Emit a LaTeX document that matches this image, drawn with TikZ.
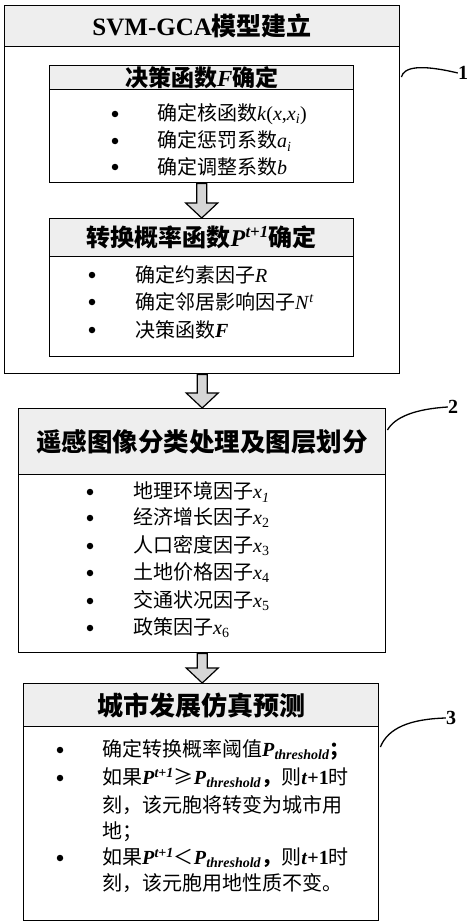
\documentclass[tikz,border=0pt]{standalone}
\usepackage{fontspec}
\setmainfont{Liberation Serif}
\newfontfamily\cjk{Noto Sans CJK SC}
\usetikzlibrary{calc}
\definecolor{hdrgray}{HTML}{EEEEEE}
\definecolor{arrgray}{HTML}{D6D6D6}
\newcommand{\zh}[1]{{\cjk #1}}
\newcommand{\bi}[1]{\textbf{\textit{#1}}}
\newcommand{\blockarrow}[2]{%
  \draw[blk] let \p1=(#1.south), \p2=(#2.north) in
    (\x1-5pt,\y1) -- (\x1+5pt,\y1) -- (\x1+5pt,\y2+15pt) -- (\x1+16pt,\y2+15pt)
    -- (\x1,\y2) -- (\x1-16pt,\y2+15pt) -- (\x1-5pt,\y2+15pt) -- cycle;}
\begin{document}
\begin{tikzpicture}[x=1pt,y=-1pt,
  box/.style={draw, line width=1.4pt, fill=white, anchor=north west, inner sep=0pt},
  hdr/.style={draw, line width=1.4pt, fill=hdrgray, anchor=north west, inner sep=0pt},
  dot/.style={circle, fill=black, inner sep=0pt, minimum size=6.5pt},
  item/.style={anchor=west, inner sep=0pt, font=\fontsize{20}{24}\selectfont},
  blk/.style={draw, line width=1.2pt, fill=arrgray, line join=miter},
  callout/.style={line width=1.3pt},
  lbl/.style={font=\fontsize{20}{20}\selectfont\bfseries, inner sep=0pt}]
\useasboundingbox (0,0) rectangle (474,923);

% ---- Box 1 ----
\node[box, minimum width=395pt, minimum height=368pt] (b1) at (4,5) {};
\node[hdr, minimum width=395pt, minimum height=41pt,
  font=\fontsize{25}{25}\selectfont\bfseries] (b1h) at (4,5) {SVM-GCA\zh{模型建立}};

% Box F
\node[box, minimum width=304pt, minimum height=117pt] (bF) at (49,65) {};
\node[hdr, minimum width=304pt, minimum height=24pt,
  font=\fontsize{23}{23}\selectfont\bfseries] (bFh) at (49,65) {\zh{决策函数}\textit{F}\zh{确定}};
\node[dot] (bFd1) at (115,114) {};
\node[dot] (bFd2) at (115,141) {};
\node[dot] (bFd3) at (115,167) {};
\node[item] (bFt1) at (157,114) {\zh{确定核函数}\textit{k}(\textit{x},\textit{x}\textsubscript{\textit{i}})};
\node[item] (bFt2) at (157,141) {\zh{确定惩罚系数}\textit{a}\textsubscript{\textit{i}}};
\node[item] (bFt3) at (157,167) {\zh{确定调整系数}\textit{b}};

% Box P
\node[box, minimum width=304pt, minimum height=138pt] (bP) at (49,218) {};
\node[hdr, minimum width=304pt, minimum height=38pt,
  font=\fontsize{24}{24}\selectfont\bfseries] (bPh) at (49,218) {\zh{转换概率函数}\textit{P}\textsuperscript{\textit{t+1}}\zh{确定}};
\node[dot] (bPd1) at (92,275) {};
\node[dot] (bPd2) at (92,302) {};
\node[dot] (bPd3) at (92,330) {};
\node[item] (bPt1) at (135,275) {\zh{确定约素因子}\textit{R}};
\node[item] (bPt2) at (135,302) {\zh{确定邻居影响因子}\textit{N}\textsuperscript{\textit{t}}};
\node[item] (bPt3) at (135,330) {\zh{决策函数}\bi{F}};

\blockarrow{bF}{bP}

% ---- Box 2 ----
\node[box, minimum width=367pt, minimum height=244pt] (b2) at (18,408) {};
\node[hdr, minimum width=367pt, minimum height=66pt,
  font=\fontsize{25.5}{25.5}\selectfont\bfseries] (b2h) at (18,408) {\zh{遥感图像分类处理及图层划分}};
\node[dot] (b2d1) at (90,492) {};
\node[dot] (b2d2) at (90,518) {};
\node[dot] (b2d3) at (90,546) {};
\node[dot] (b2d4) at (90,573) {};
\node[dot] (b2d5) at (90,601) {};
\node[dot] (b2d6) at (90,628) {};
\node[item] (b2t1) at (133,492) {\zh{地理环境因子}\textit{x}\textsubscript{\textit{1}}};
\node[item] (b2t2) at (133,518) {\zh{经济增长因子}\textit{x}\textsubscript{2}};
\node[item] (b2t3) at (133,546) {\zh{人口密度因子}\textit{x}\textsubscript{3}};
\node[item] (b2t4) at (133,573) {\zh{土地价格因子}\textit{x}\textsubscript{4}};
\node[item] (b2t5) at (133,601) {\zh{交通状况因子}\textit{x}\textsubscript{5}};
\node[item] (b2t6) at (133,628) {\zh{政策因子}\textit{x}\textsubscript{6}};

\blockarrow{b1}{b2}

% ---- Box 3 ----
\node[box, minimum width=355pt, minimum height=237pt] (b3) at (23,683) {};
\node[hdr, minimum width=355pt, minimum height=43pt,
  font=\fontsize{26}{26}\selectfont\bfseries] (b3h) at (23,683) {\zh{城市发展仿真预测}};
\node[dot] (b3d1) at (60,750) {};
\node[dot] (b3d2) at (60,778) {};
\node[dot] (b3d3) at (60,858) {};
\node[item] (b3t1) at (102,750) {\zh{确定转换概率阈值}\bi{P}\textsubscript{\bi{threshold}}\zh{\bfseries ；}};
\node[item] (b3t2) at (102,778) {\zh{如果}\bi{P}\textsuperscript{\bi{t+1}}\zh{≥}\bi{P}\textsubscript{\bi{threshold}}\zh{\bfseries ，}\zh{则}\bi{t}\textbf{+1}\zh{时}};
\node[item] (b3t3) at (102,805) {\zh{刻，该元胞将转变为城市用}};
\node[item] (b3t4) at (102,832) {\zh{地；}};
\node[item] (b3t5) at (102,858) {\zh{如果}\bi{P}\textsuperscript{\bi{t+1}}\zh{＜}\bi{P}\textsubscript{\bi{threshold}}\zh{\bfseries ，}\zh{则}\bi{t}\textbf{+1}\zh{时}};
\node[item] (b3t6) at (102,883) {\zh{刻，该元胞用地性质不变。}};

\blockarrow{b2}{b3}

% ---- callouts ----
\node[lbl] (n1) at (463,73) {1};
\node[lbl] (n2) at (453,407) {2};
\node[lbl] (n3) at (451,718) {3};
\coordinate (c1) at ($(b1.north east)+(1,72)$);
\coordinate (c2) at ($(b2.north east)+(1,22)$);
\coordinate (c3) at ($(b3.north east)+(1,64)$);
\draw[callout] (c1) .. controls (404,67) and (420,64) .. (n1.west);
\draw[callout] (c2) .. controls (395,417) and (415,409) .. (n2.west);
\draw[callout] (c3) .. controls (388,728) and (410,719) .. (n3.west);
\end{tikzpicture}
\end{document}
